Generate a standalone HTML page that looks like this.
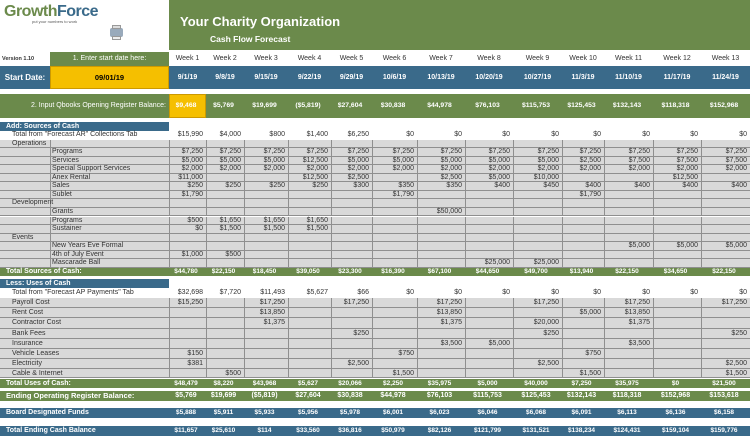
<!DOCTYPE html>
<html><head><meta charset="utf-8"><style>
body{margin:0;width:750px;height:436px;overflow:hidden;background:#fff;font-family:"Liberation Sans",Arial,sans-serif;position:relative}
div{position:absolute;box-sizing:border-box;white-space:nowrap}
</style></head><body>
<div style="left:169px;top:0;width:581px;height:50px;background:#6b8a4b"></div>
<div style="left:180px;top:14px;font-size:13px;font-weight:bold;color:#fff">Your Charity Organization</div>
<div style="left:210px;top:34px;font-size:8.5px;font-weight:bold;color:#fff">Cash Flow Forecast</div>
<div style="left:4px;top:3px;font-size:16px;font-weight:bold;letter-spacing:-0.5px;color:#6b8a4b">Growth<span style="color:#3a6a8a">Force</span></div>
<div style="left:32px;top:19px;font-size:4px;color:#555">put your numbers to work</div>
<div style="left:110px;top:28px;width:13px;height:9px;background:#9ab;border-radius:2px"></div>
<div style="left:112px;top:25px;width:9px;height:4px;background:#ddd;border:1px solid #999"></div>
<div style="left:112px;top:36px;width:9px;height:4px;background:#eee;border:1px solid #999"></div>
<div style="left:2px;top:56px;font-size:5.5px;font-weight:bold;color:#333">Version 1.10</div>
<div style="left:50px;top:52px;width:119px;height:14px;background:#6b8a4b;color:#fff;font-size:7px;text-align:center;line-height:14px">1. Enter start date here:</div>
<div style="left:0;top:66px;width:750px;height:23px;background:#3a6a8a"></div>
<div style="left:0;top:66px;width:50px;height:23px;color:#fff;font-weight:bold;font-size:8px;text-align:center;line-height:23px">Start Date:</div>
<div style="left:50px;top:66px;width:119px;height:23px;background:#f5bf00;border:1px solid #c90;font-weight:bold;font-size:7.5px;text-align:center;line-height:21px">09/01/19</div>
<div style="left:0;top:94px;width:750px;height:24px;background:#6b8a4b"></div>
<div style="left:0;top:94px;width:166px;height:24px;color:#fff;font-size:7px;text-align:right;line-height:24px">2. Input Qbooks Opening Register Balance:</div>
<div style="left:169px;top:94px;width:37px;height:24px;background:#f5bf00;border:1px solid #c90"></div>
<div id="g"></div>
<script>
var C=[169,206,244,288,331,372,417,465,513,562,604,653,701,750];
var H='';
function d(s,st){H+='<div style="'+st+'">'+s+'</div>';}
function f(v){if(v===''||v==null)return '';var n=v<0;var s='$'+Math.abs(v).toLocaleString('en-US');return n?'('+s+')':s;}
function vals(y,h,v,col,bold,fs){for(var i=0;i<13;i++){if(v[i]===undefined||v[i]==='')continue;d(f(v[i]),'left:'+C[i]+'px;top:'+y+'px;width:'+(C[i+1]-C[i])+'px;height:'+h+'px;line-height:'+h+'px;text-align:'+(bold?'center':'right')+';padding-right:3px;font-size:'+(fs||7)+'px;color:'+col+';'+(bold?'font-weight:bold;':''));}}
var dates=['9/1/19','9/8/19','9/15/19','9/22/19','9/29/19','10/6/19','10/13/19','10/20/19','10/27/19','11/3/19','11/10/19','11/17/19','11/24/19'];
for(var i=0;i<13;i++){var w=C[i+1]-C[i];d('Week '+(i+1),'left:'+C[i]+'px;top:52px;width:'+w+'px;height:14px;line-height:14px;text-align:center;font-size:7px;color:#333');d(dates[i],'left:'+C[i]+'px;top:66px;width:'+w+'px;height:23px;line-height:23px;text-align:center;font-size:7px;font-weight:bold;color:#fff');}
vals(94,24,[9468,5769,19699,-5819,27604,30838,44978,76103,115753,125453,132143,118318,152968],'#fff',1,6.8);
H=H.replace('>$9,468<',' style="color:#000">$9,468<');
function grid(y,h,sub){d('','left:0;top:'+y+'px;width:750px;height:'+h+'px;background:#d9d9d9;border-bottom:1px solid #8f8f8f');if(sub)d('','left:50px;top:'+y+'px;width:1px;height:'+h+'px;background:#8f8f8f');for(var i=0;i<13;i++)d('','left:'+C[i]+'px;top:'+y+'px;width:1px;height:'+h+'px;background:#8f8f8f');}
function lab(s,x,y,h,st){d(s,'left:'+x+'px;top:'+y+'px;height:'+h+'px;line-height:'+h+'px;font-size:7px;color:#333;'+(st||''));}
d('Add: Sources of Cash','left:0;top:122px;width:169px;height:9px;background:#3a6a8a;color:#fff;font-weight:bold;font-size:7px;line-height:9px;padding-left:6px');
var S=[
['Total from "Forecast AR" Collections Tab',0,[15990,4000,800,1400,6250,0,0,0,0,0,0,0,0]],
['Operations',1,[]],
['Programs',2,[7250,7250,7250,7250,7250,7250,7250,7250,7250,7250,7250,7250,7250]],
['Services',2,[5000,5000,5000,12500,5000,5000,5000,5000,5000,2500,7500,7500,7500]],
['Special Support Services',2,[2000,2000,2000,2000,2000,2000,2000,2000,2000,2000,2000,2000,2000]],
['Anex Rental',2,[11000,'','',12500,2500,'',2500,5000,10000,'','',12500,'']],
['Sales',2,[250,250,250,250,300,350,350,400,450,400,400,400,400]],
['Sublet',2,[1790,'','','','',1790,'','','',1790]],
['Development',1,[]],
['Grants',2,['','','','','','',50000]],
['Programs',2,[500,1650,1650,1650]],
['Sustainer',2,[0,1500,1500,1500]],
['Events',1,[]],
['New Years Eve Formal',2,['','','','','','','','','','',5000,5000,5000]],
['4th of July Event',2,[1000,500]],
['Mascarade Ball',2,['','','','','','','',25000,25000]]];
for(var r=0;r<S.length;r++){var y=131+r*8.55,h=8.55;if(S[r][1])grid(y,h,1);lab(S[r][0],S[r][1]==2?52:12,y,h);vals(y,h,S[r][2],'#333');}
d('','left:0;top:268px;width:750px;height:8px;background:#6b8a4b');
lab('Total Sources of Cash:',6,268,8,'color:#fff;font-weight:bold');
vals(268,8,[44780,22150,18450,39050,23300,16390,67100,44650,49700,13940,22150,34650,22150],'#fff',1,6.5);
d('Less: Uses of Cash','left:0;top:279px;width:169px;height:9px;background:#3a6a8a;color:#fff;font-weight:bold;font-size:7px;line-height:9px;padding-left:6px');
lab('Total from "Forecast AP Payments" Tab',12,288,10);
vals(288,10,[32698,7720,11493,5627,66,0,0,0,0,0,0,0,0],'#333');
var U=[['Payroll Cost',[15250,'',17250,'',17250,'',17250,'',17250,'',17250,'',17250]],
['Rent Cost',['','',13850,'','','',13850,'','',5000,13850]],
['Contractor Cost',['','',1375,'','','',1375,'',20000,'',1375]],
['Bank Fees',['','','','',250,'','','',250,'','','',250]],
['Insurance',['','','','','','',3500,5000,'','',3500]],
['Vehicle Leases',[150,'','','','',750,'','','',750]],
['Electricity',[381,'','','',2500,'','','',2500,'','','',2500]],
['Cable & Internet',['',500,'','','',1500,'','','',1500,'','',1500]]];
for(var r=0;r<U.length;r++){var y=298+r*10.2,h=r==7?9:10.2;grid(y,h,0);lab(U[r][0],12,y,h);vals(y,h,U[r][1],'#333');}
d('','left:0;top:379px;width:750px;height:9px;background:#6b8a4b');
lab('Total Uses of Cash:',6,379,9,'color:#fff;font-weight:bold');
vals(379,9,[48479,8220,43968,5627,20066,2250,35975,5000,40000,7250,35975,0,21500],'#fff',1,6.5);
d('','left:0;top:391px;width:750px;height:10px;background:#6b8a4b');
lab('Ending Operating Register Balance:',6,391,10,'color:#fff;font-weight:bold;font-size:7.5px');
vals(391,10,[5769,19699,-5819,27604,30838,44978,76103,115753,125453,132143,118318,152968,153618],'#fff',1,7);
d('','left:0;top:408px;width:750px;height:10px;background:#3a6a8a');
lab('Board Designated Funds',6,408,10,'color:#fff;font-weight:bold');
vals(408,10,[5888,5911,5933,5956,5978,6001,6023,6046,6068,6091,6113,6136,6158],'#fff',1,6.5);
d('','left:0;top:426px;width:750px;height:10px;background:#3a6a8a');
lab('Total Ending Cash Balance',6,426,10,'color:#fff;font-weight:bold');
vals(426,10,[11657,25610,114,33560,36816,50979,82126,121799,131521,138234,124431,159104,159776],'#fff',1,6.5);
document.getElementById('g').outerHTML=H;
</script>
</body></html>
